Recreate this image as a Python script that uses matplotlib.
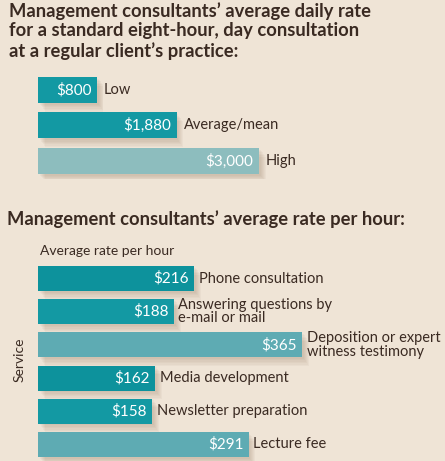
import numpy as np
import matplotlib
matplotlib.use("Agg")
import matplotlib.pyplot as plt
import matplotlib.patheffects as pe

# daily rate chart
daily_labels = ["Low", "Average/mean", "High"]
daily_values = [800, 1880, 3000]
daily_text = ["$800", "$1,880", "$3,000"]

# hourly rate chart
hourly_labels = ["Phone consultation", "Answering questions by\ne-mail or mail",
                 "Deposition or expert\nwitness testimony", "Media development",
                 "Newsletter preparation", "Lecture fee"]
hourly_values = [216, 188, 365, 162, 158, 291]
hourly_text = ["$216", "$188", "$365", "$162", "$158", "$291"]

BG = "#efe4d6"
DARK = "#3a2a22"
TEAL = "#1399a3"
TEAL2 = "#0d929c"
LIGHT_TOP = "#8dbdbe"
LIGHT_BOT = "#5eabb3"

W, H = 445, 461
fig = plt.figure(figsize=(W / 100, H / 100), dpi=100)
fig.patch.set_facecolor(BG)

FONT = ["Lato", "DejaVu Sans"]


def px_axes(x0, y0, x1, y1):
    # axes given in pixel coords from top-left
    return fig.add_axes([x0 / W, 1 - y1 / H, (x1 - x0) / W, (y1 - y0) / H])


shadow = [pe.SimplePatchShadow(offset=(1.2 + k * 0.7, -1.2 - k * 1.0), shadow_rgbFace="#8a6a50",
                               alpha=0.05) for k in range(6)] + [pe.Normal()]


def draw_bars(ax, values, texts, labels, colors, height, xmax, lab_off, fs):
    y = np.arange(len(values))
    bars = ax.barh(y, values, height=height, color=colors, zorder=2)
    for b in bars:
        b.set_path_effects(shadow)
    for yi, v, t, lab in zip(y, values, texts, labels):
        ax.annotate(t, (v, yi), xytext=(-4, 0), textcoords="offset points",
                    ha="right", va="center", color="white", fontsize=fs + 0.5,
                    family=FONT, zorder=3)
        ax.annotate(lab, (v, yi), xytext=(lab_off, 0), textcoords="offset points",
                    ha="left", va="center", color=DARK, fontsize=fs,
                    family=FONT, linespacing=0.95, zorder=3)
    ax.set_xlim(0, xmax)
    ax.axis("off")
    ax.patch.set_alpha(0)


# top chart: bar centres 90, 125.5, 161 px; $3000 -> 221 px
ax1 = px_axes(38, 72.25, 445, 178.75)
ax1.set_ylim(2 + 17.75 / 35.5, -0.5)
draw_bars(ax1, daily_values, daily_text, daily_labels, [TEAL, TEAL, LIGHT_TOP],
          26 / 35.5, 407 / 0.0737, 5, 10.5)

# bottom chart: bar centres 278.5 ... 444.5 px; $365 -> 264 px
ax2 = px_axes(38, 262, 445, 461)
step = (444.5 - 278.5) / 5
ax2.set_ylim(5 + (461 - 444.5) / step, -(278.5 - 262) / step)
draw_bars(ax2, hourly_values, hourly_text, hourly_labels,
          [TEAL2, TEAL, LIGHT_BOT, TEAL2, TEAL, LIGHT_BOT],
          25 / step, 407 / 0.7245, 3, 10.5)

# titles and axis texts
fig.text(9 / W, 1 - 2 / H, "Management consultants\u2019 average daily rate\n"
         "for a standard eight-hour, day consultation\nat a regular client\u2019s practice:",
         ha="left", va="top", fontsize=13.2, fontweight="bold", color=DARK,
         family=FONT, linespacing=1.18)
fig.text(7 / W, 1 - 225 / H, "Management consultants\u2019 average rate per hour:",
         ha="left", va="baseline", fontsize=13.2, fontweight="bold", color=DARK, family=FONT)
fig.text(40 / W, 1 - 251 / H, "Average rate per hour", ha="left", va="center",
         fontsize=10, color=DARK, family=FONT)
fig.text(20 / W, 1 - 360 / H, "Service", ha="center", va="center", rotation=90,
         fontsize=10, color=DARK, family=FONT)

fig.savefig("out.png", dpi=100, facecolor=BG)
